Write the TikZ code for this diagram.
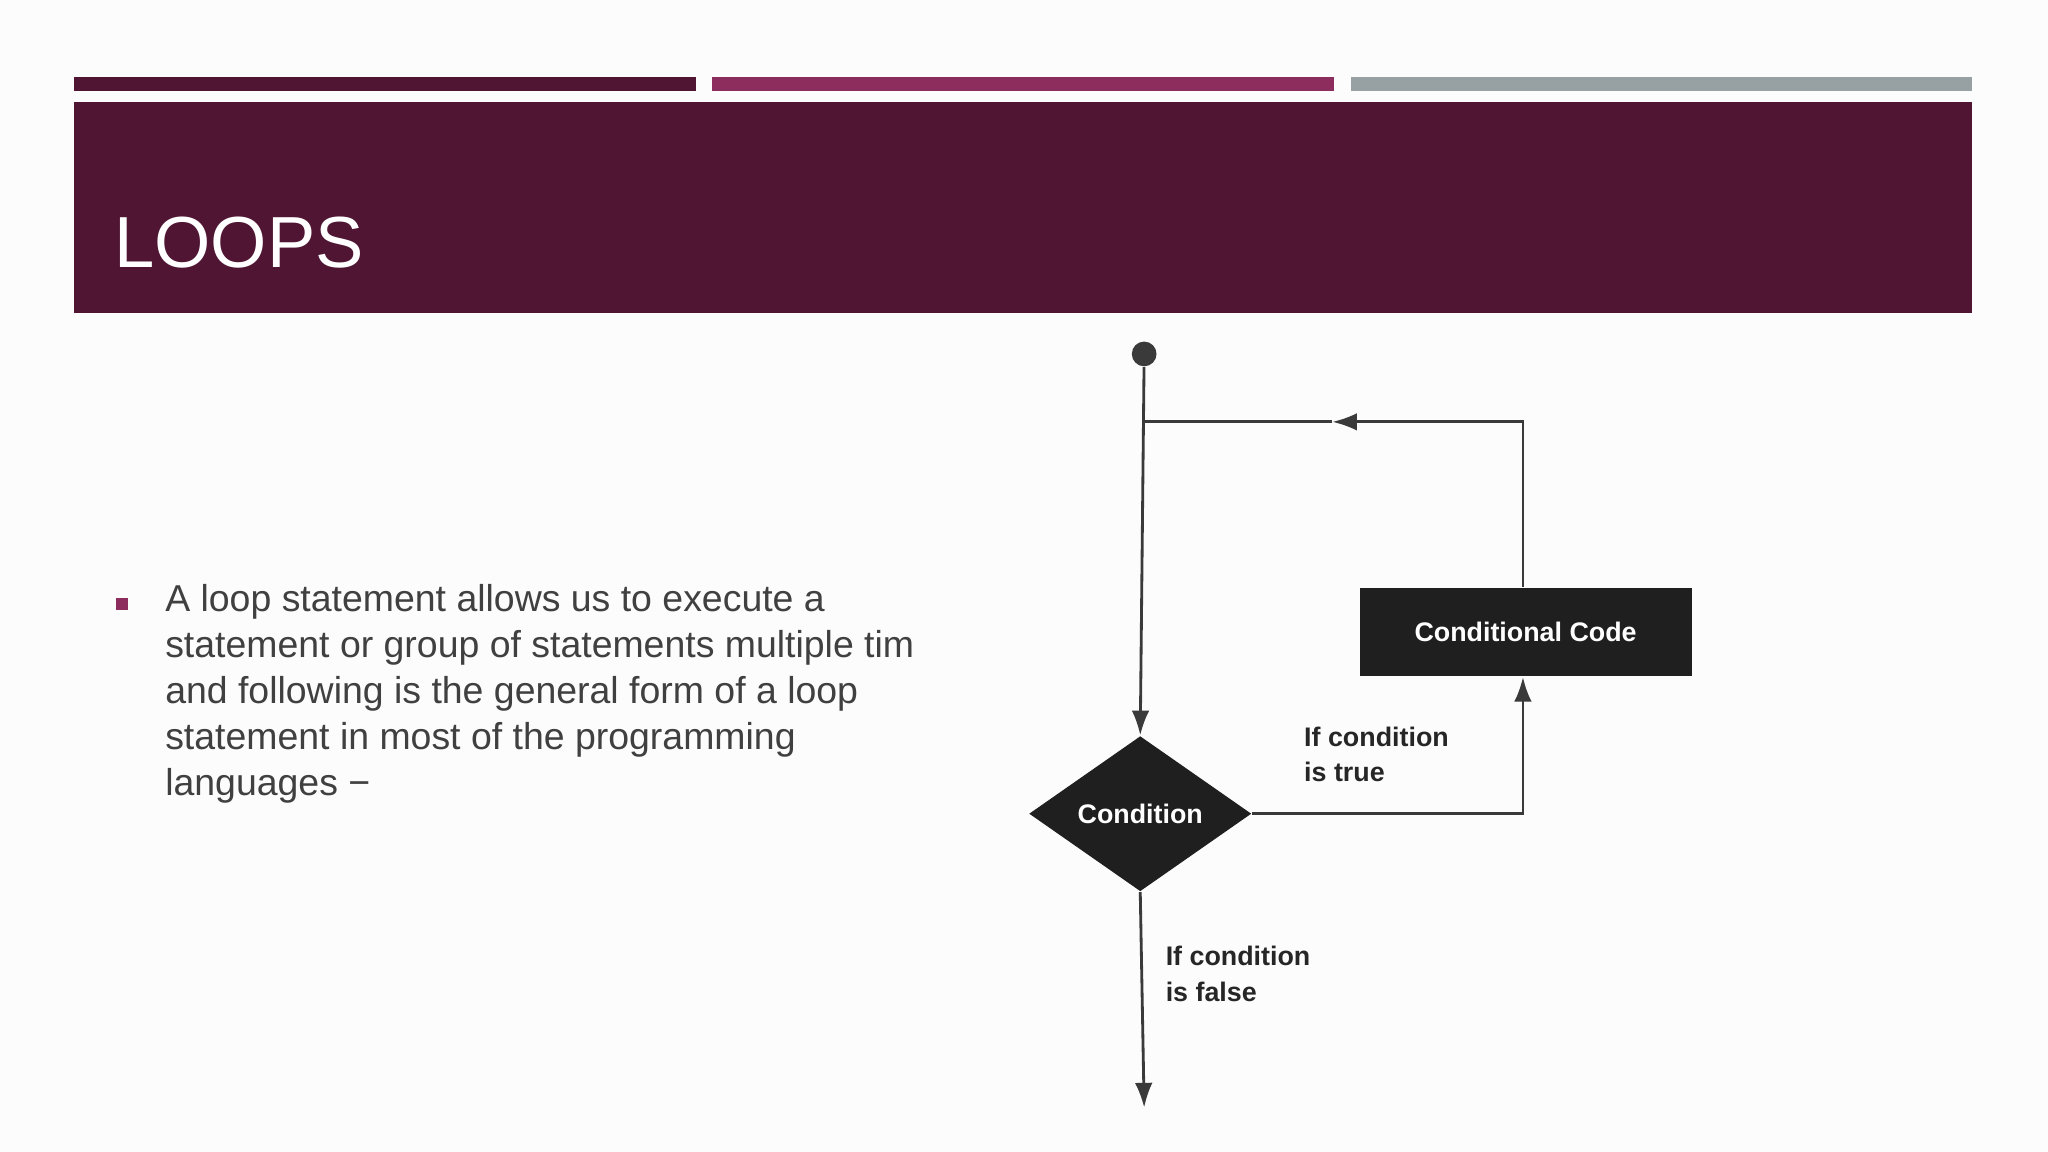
\documentclass[tikz,border=0pt]{standalone}
\usepackage{fontspec}
\setmainfont{Liberation Sans}
\usetikzlibrary{arrows.meta,shapes.geometric}
\definecolor{plum}{HTML}{4F1533}
\definecolor{berry}{HTML}{8C2D5E}
\definecolor{slate}{HTML}{97A1A4}
\definecolor{ink}{HTML}{3A3A3A}
\definecolor{body}{HTML}{404040}
\tikzset{%
  bar/.style={fill=#1,draw=none},
  flow/.style={draw=ink,line width=0.8pt,-{Latex[length=7pt,width=5pt]}},
  wire/.style={draw=ink,line width=0.8pt},
  blackbox/.style={fill=black!88,text=white,font=\fontsize{7.6}{9}\selectfont\bfseries,inner sep=0pt},
  label/.style={anchor=north west,align=left,font=\fontsize{7.6}{10}\selectfont\bfseries,text=black!85,inner sep=0pt}
}
\begin{document}
\begin{tikzpicture}[x=0.013cm,y=-0.013cm]
  \fill[white!98!gray] (0,0) rectangle (1568,882);
  \useasboundingbox (0,0) rectangle (1568,882);
  % bars and header
  \fill[bar=plum] (57,59) rectangle (533,70);
  \fill[bar=berry] (545,59) rectangle (1021,70);
  \fill[bar=slate] (1034,59) rectangle (1510,70);
  \fill[bar=plum] (57,78) rectangle (1510,240);
  \node[anchor=base west,text=white,font=\fontsize{20.5}{24}\selectfont,inner sep=0pt] (title) at (87,205) {LOOPS};
  % bullet text
  \fill[berry] (89,458) rectangle (98,467);
  \node[anchor=north west,align=left,text=body,inner sep=0pt,
    font=\fontsize{10.6}{13}\selectfont] (txt) at (126,447)
    {A loop statement allows us to execute a\\
     statement or group of statements multiple tim\\
     and following is the general form of a loop\\
     statement in most of the programming\\
     languages −};
  % flow chart
  \node[circle,fill=ink,minimum size=7pt,inner sep=0pt] (start) at (876,271) {};
  \node[diamond,blackbox,minimum width=63pt,minimum height=44pt,aspect=1.45] (cond) at (873,623) {Condition};
  \node[blackbox,minimum width=94pt,minimum height=25pt] (code) at (1168,484) {Conditional Code};
  \coordinate (join) at (876,323);
  \coordinate (mid) at (1020,323);
  \coordinate (corner) at (1166,323);
  \coordinate (turn) at (1166,623);
  \coordinate (exit) at (876,848);
  \draw[flow] (start) -- (cond.north);
  \draw[flow] (cond.east) -- (turn) -- (code.south -| turn);
  \draw[flow] (code.north -| corner) -- (corner) -- (mid);
  \draw[wire] (mid) -- (join);
  \draw[flow] (cond.south) -- (exit);
  \node[label] (lt) at (998,556) {If condition\\ is true};
  \node[label] (lf) at (892,724) {If condition\\is false};
\end{tikzpicture}
\end{document}
